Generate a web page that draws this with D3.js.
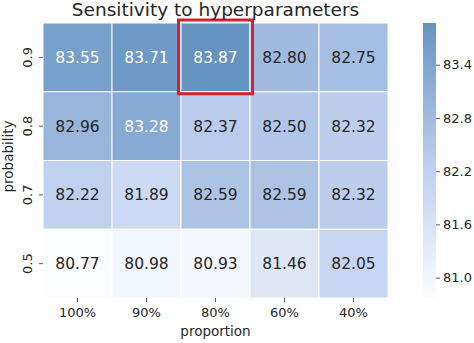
<!DOCTYPE html>
<html>
<head>
<meta charset="utf-8">
<script src="https://cdn.jsdelivr.net/npm/d3@7"></script>
<style>
  html, body { margin: 0; padding: 0; background: #fff; }
  svg { display: block; font-family: "DejaVu Sans", sans-serif; }
</style>
</head>
<body>
<svg id="chart" width="474" height="343"></svg>
<script>
// Grid layout: columns are the data proportion, rows are the probability
const proportions = ["100%", "90%", "80%", "60%", "40%"];
const probabilities = ["0.9", "0.8", "0.7", "0.5"];
const row09 = [83.55, 83.71, 83.87, 82.80, 82.75];
const row08 = [82.96, 83.28, 82.37, 82.50, 82.32];
const row07 = [82.22, 81.89, 82.59, 82.59, 82.32];
const row05 = [80.77, 80.98, 80.93, 81.46, 82.05];
const colorbarTicks = [81.0, 81.6, 82.2, 82.8, 83.4];
const highlight = { probability: "0.9", proportion: "80%" };

const rows = [row09, row08, row07, row05];
const cells = [];
rows.forEach((vals, i) => vals.forEach((v, j) => cells.push({ p: probabilities[i], q: proportions[j], v })));

const svg = d3.select("#chart");
const mLeft = 43, mRight = 388, mTop = 23, mBottom = 298;

const x = d3.scaleBand().domain(proportions).range([mLeft, mRight]);
const y = d3.scaleBand().domain(probabilities).range([mTop, mBottom]);

const all = cells.map(d => d.v);
const vmin = d3.min(all), vmax = d3.max(all);
const color = d3.scaleLinear()
  .domain([0, 0.5, 1].map(t => vmin + t * (vmax - vmin)))
  .range(["#fbfcff", "#bccdee", "#6594c2"])
  .interpolate(d3.interpolateRgb);

function luminance(c) {
  const rgb = d3.rgb(c);
  const f = u => { u /= 255; return u <= 0.03928 ? u / 12.92 : Math.pow((u + 0.055) / 1.055, 2.4); };
  return 0.2126 * f(rgb.r) + 0.7152 * f(rgb.g) + 0.0722 * f(rgb.b);
}

// Heatmap cells
svg.append("g").selectAll("rect").data(cells).join("rect")
  .attr("x", d => x(d.q)).attr("y", d => y(d.p))
  .attr("width", x.bandwidth()).attr("height", y.bandwidth())
  .attr("fill", d => color(d.v))
  .attr("stroke", "#ffffff").attr("stroke-width", 1);

// Cell annotations: light text on the darker cells
svg.append("g").selectAll("text").data(cells).join("text")
  .attr("x", d => x(d.q) + x.bandwidth() / 2)
  .attr("y", d => y(d.p) + y.bandwidth() / 2)
  .attr("dy", "0.36em")
  .attr("text-anchor", "middle")
  .attr("font-size", 15.5)
  .attr("fill", d => luminance(color(d.v)) < 0.42 ? "#ffffff" : "#262626")
  .text(d => d.v.toFixed(2));

// Highlight box around the best setting
svg.append("rect")
  .attr("x", x(highlight.proportion) - 2.5)
  .attr("y", y(highlight.probability) - 3)
  .attr("width", x.bandwidth() + 5)
  .attr("height", y.bandwidth() + 5)
  .attr("fill", "none")
  .attr("stroke", "#d3222f")
  .attr("stroke-width", 3);

// X axis
const xAxis = svg.append("g").attr("transform", `translate(0,${mBottom})`)
  .call(d3.axisBottom(x).tickSize(4).tickPadding(6));
xAxis.select(".domain").remove();
xAxis.selectAll("line").attr("stroke", "#333").attr("stroke-width", 0.8);
xAxis.selectAll("text").attr("font-size", 13).attr("fill", "#262626").attr("font-family", "DejaVu Sans");

// Y axis with rotated tick labels
const yAxis = svg.append("g").attr("transform", `translate(${mLeft},0)`)
  .call(d3.axisLeft(y).tickSize(4).tickPadding(0));
yAxis.select(".domain").remove();
yAxis.selectAll("line").attr("stroke", "#333").attr("stroke-width", 0.8);
yAxis.selectAll("text")
  .attr("font-size", 13).attr("fill", "#262626").attr("font-family", "DejaVu Sans")
  .attr("text-anchor", "middle")
  .attr("dy", null)
  .attr("x", null)
  .attr("transform", "translate(-11,0) rotate(-90)");

// Axis titles
svg.append("text")
  .attr("x", (mLeft + mRight) / 2).attr("y", 336)
  .attr("text-anchor", "middle").attr("font-size", 13.5).attr("fill", "#262626")
  .text("proportion");
svg.append("text")
  .attr("transform", `translate(13,${(mTop + mBottom) / 2 - 4}) rotate(-90)`)
  .attr("text-anchor", "middle").attr("font-size", 13.5).attr("fill", "#262626")
  .text("probability");

// Title
svg.append("text")
  .attr("x", (mLeft + mRight) / 2).attr("y", 16)
  .attr("text-anchor", "middle").attr("font-size", 18.5).attr("fill", "#262626")
  .text("Sensitivity to hyperparameters");

// Colorbar
const cbX = 423, cbW = 13;
const cbScale = d3.scaleLinear().domain([vmin, vmax]).range([mBottom, mTop]);
const defs = svg.append("defs");
const grad = defs.append("linearGradient").attr("id", "cbgrad")
  .attr("x1", 0).attr("y1", 1).attr("x2", 0).attr("y2", 0);
d3.range(0, 1.0001, 0.05).forEach(t => {
  grad.append("stop").attr("offset", t).attr("stop-color", color(vmin + t * (vmax - vmin)));
});
svg.append("rect").attr("x", cbX).attr("y", mTop).attr("width", cbW).attr("height", mBottom - mTop)
  .attr("fill", "url(#cbgrad)");
const cbAxis = svg.append("g").attr("transform", `translate(${cbX + cbW},0)`)
  .call(d3.axisRight(cbScale).tickValues(colorbarTicks).tickFormat(d3.format(".1f")).tickSize(4).tickPadding(3));
cbAxis.select(".domain").remove();
cbAxis.selectAll("line").attr("stroke", "#333").attr("stroke-width", 0.8);
cbAxis.selectAll("text").attr("font-size", 13).attr("fill", "#262626").attr("font-family", "DejaVu Sans");
</script>
</body>
</html>
